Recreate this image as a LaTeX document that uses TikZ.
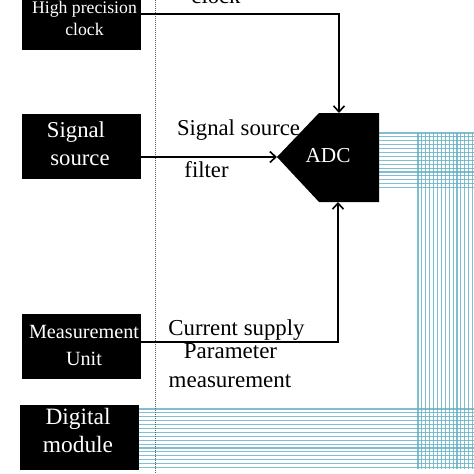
\documentclass[tikz,border=0pt]{standalone}
\usepackage{fontspec}
\setmainfont{Liberation Serif}
\usetikzlibrary{arrows.meta}
\begin{document}
\begin{tikzpicture}[x=1pt,y=-1pt,
  blk/.style={fill=black,draw=black,inner sep=0pt},
  wtxt/.style={text=white,anchor=base,inner sep=0pt},
  btxt/.style={text=black,anchor=base,inner sep=0pt},
  conn/.style={line width=1.8pt,draw=black},
  tip/.style={-{Straight Barb[length=6pt,width=11pt,line width=1.6pt]}},
  stripe/.style={draw={rgb,255:red,95;green,175;blue,195},line width=1.1pt,opacity=0.8}]
\useasboundingbox (0,0) rectangle (474,474);
\begin{scope}
\clip (0,0) rectangle (474,474);
% stripes
\foreach \i in {0,...,14} \draw[stripe] (379,{133+\i*3.9}) -- (474,{133+\i*3.9});
\foreach \i in {0,...,15} \draw[stripe] (138,{409+\i*3.9}) -- (474,{409+\i*3.9});
\foreach \i in {0,...,14} \draw[stripe] ({418+\i*3.9},133) -- ({418+\i*3.9},469);
% dotted separator
\draw[draw={rgb,255:red,90;green,90;blue,90},line width=1pt,dash pattern=on 1pt off 1pt] (155,0) -- (155,474);
% boxes
\node[blk,minimum width=118,minimum height=62] (hpc) at (81,18) {};
\node[blk,minimum width=118,minimum height=64] (sig) at (81,146) {};
\node[blk,minimum width=118,minimum height=64] (mes) at (81,346) {};
\node[blk,minimum width=118,minimum height=64] (dig) at (79,437) {};
\node[wtxt,font=\fontsize{17.7}{21}\selectfont] (hpc1) at (84.5,13) {High precision};
\node[wtxt,font=\fontsize{17.7}{21}\selectfont] (hpc2) at (84.5,35) {clock};
\node[wtxt,font=\fontsize{22.7}{27}\selectfont] (sig1) at (76,137) {Signal};
\node[wtxt,font=\fontsize{22.7}{27}\selectfont] (sig2) at (80,165) {source};
\node[wtxt,font=\fontsize{20.2}{24}\selectfont] (mes1) at (84,338) {Measurement};
\node[wtxt,font=\fontsize{20.2}{24}\selectfont] (mes2) at (84,365) {Unit};
\node[wtxt,font=\fontsize{23.4}{28}\selectfont] (dig1) at (78,424) {Digital};
\node[wtxt,font=\fontsize{23.4}{28}\selectfont] (dig2) at (78,452) {module};
% ADC
\coordinate (adcL) at (277,157);
\coordinate (adcT) at (339,113);
\coordinate (adcB) at (338,202);
\fill[black] (adcL) -- (319,113) -- (379,113) -- (379,202) -- (319,202) -- cycle;
\node[wtxt,font=\fontsize{21.3}{26}\selectfont] (adc) at (328,162) {ADC};
% connectors
\coordinate (c1) at (339,14);
\coordinate (c2) at (338,342);
\draw[conn,tip] (c1 -| hpc.east) -- (c1) -- (adcT);
\draw[conn,tip] (hpc.east |- adcL) -- (adcL);
\draw[conn,tip] (c2 -| mes.east) -- (c2) -- (adcB);
% labels
\node[btxt,font=\fontsize{22.7}{27}\selectfont] (lclk) at (216,3) {clock};
\node[btxt,font=\fontsize{22.7}{27}\selectfont] (lsig) at (238.5,135) {Signal source};
\node[btxt,font=\fontsize{22.7}{27}\selectfont] (lfil) at (206.5,177) {filter};
\node[btxt,font=\fontsize{22.8}{27}\selectfont] (lcur) at (236.5,335) {Current supply};
\node[btxt,font=\fontsize{23}{27}\selectfont] (lpar) at (230.5,358) {Parameter};
\node[btxt,font=\fontsize{23}{27}\selectfont] (lmea) at (230,387) {measurement};
\end{scope}
\end{tikzpicture}
\end{document}
